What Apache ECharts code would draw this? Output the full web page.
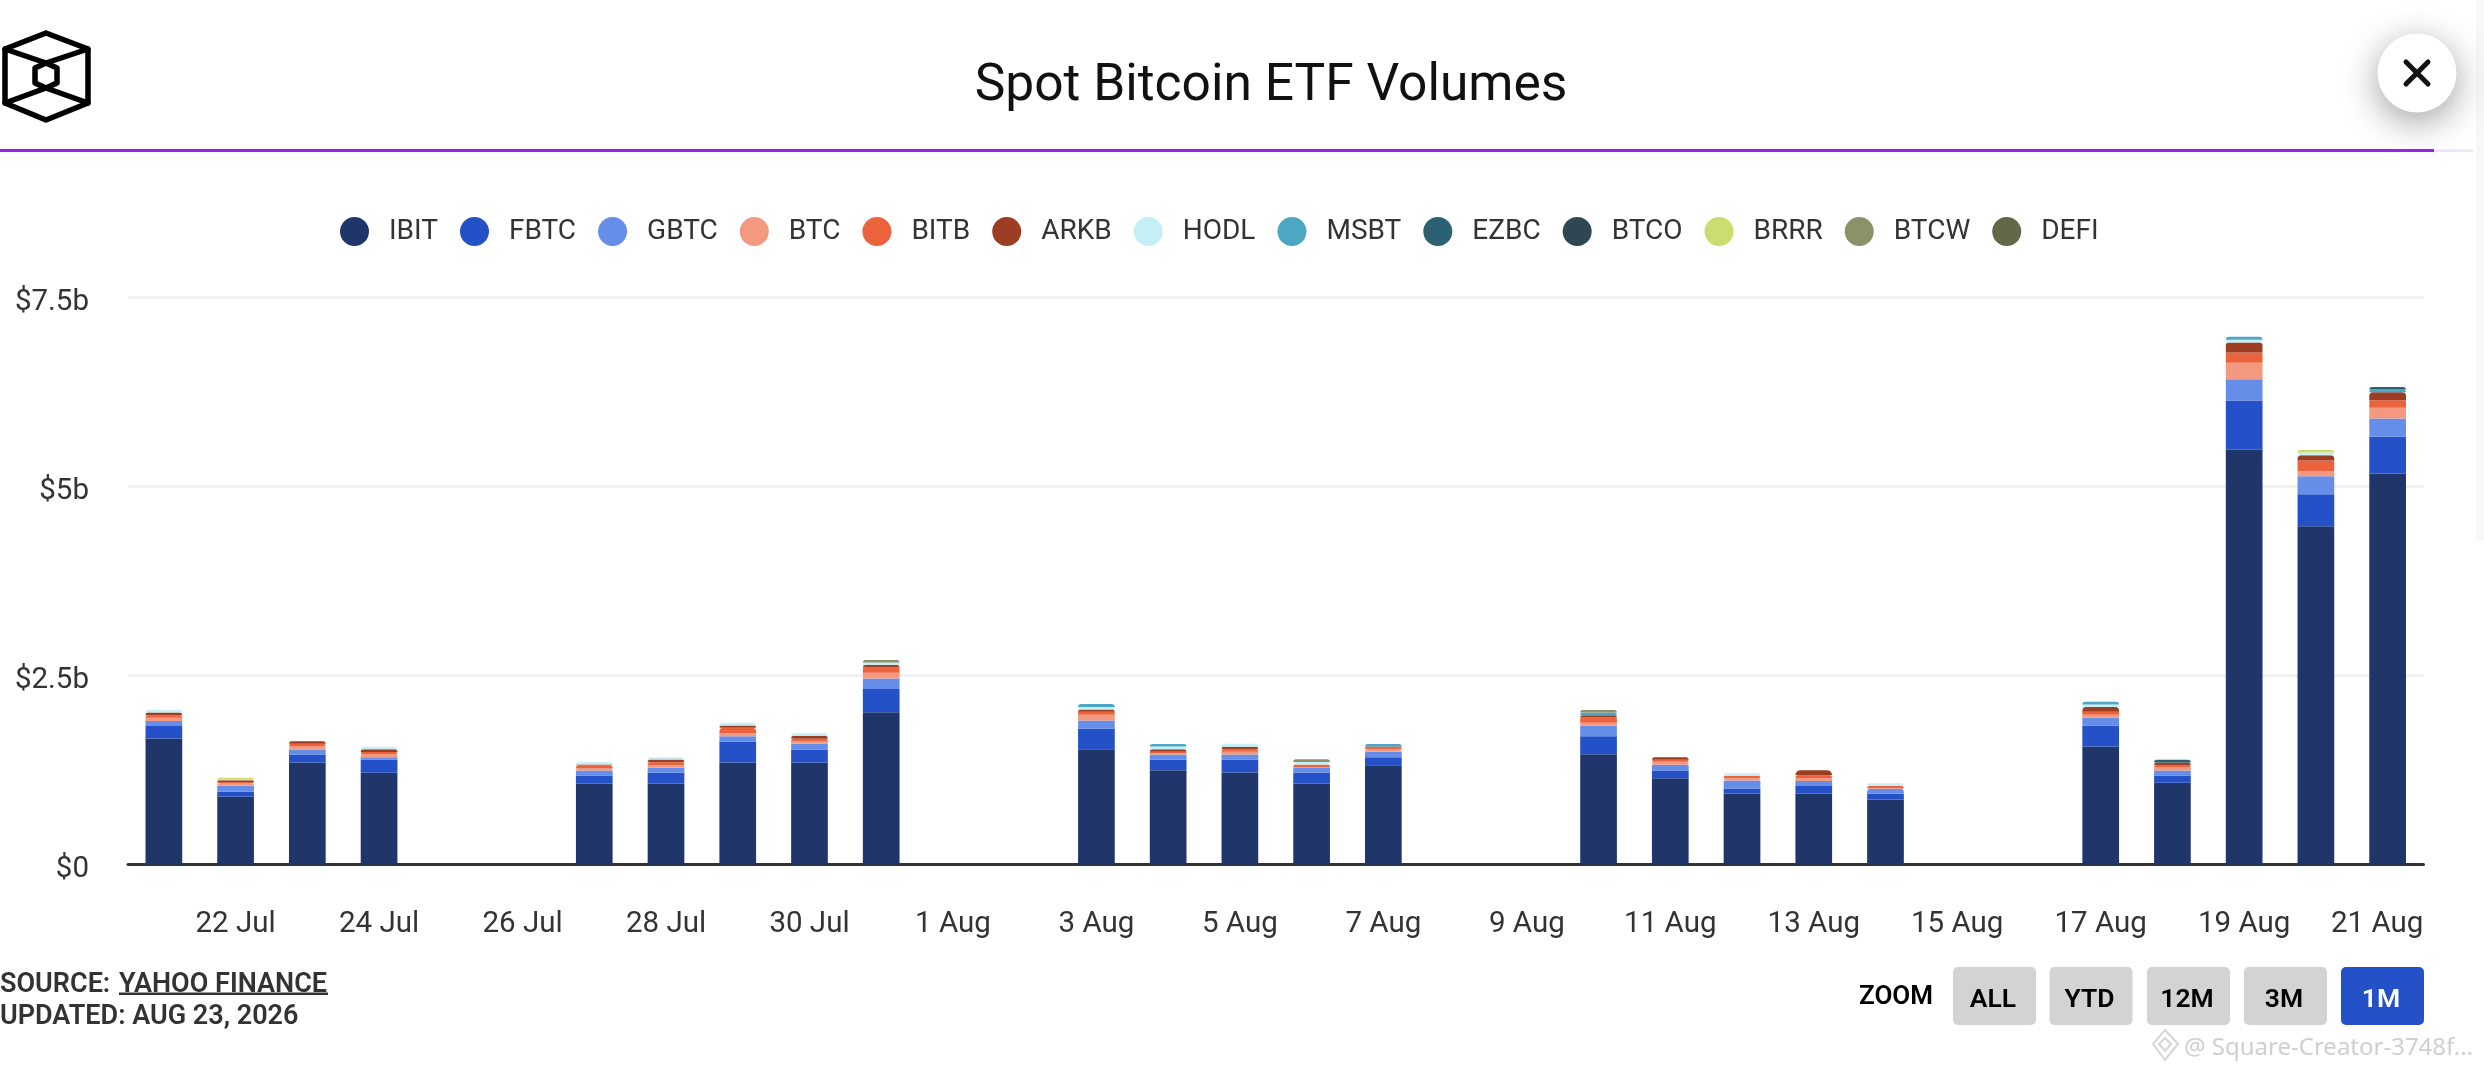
<!DOCTYPE html>
<html>
<head>
<meta charset="utf-8">
<style>html,body{margin:0;padding:0;background:#fff;overflow:hidden}#c{width:2484px;height:1071px}</style>
<script src="https://cdn.jsdelivr.net/npm/echarts@6/dist/echarts.min.js"></script>
</head>
<body>
<div id="c"></div>
<script>
const dates = ['21 Jul','22 Jul','23 Jul','24 Jul','25 Jul','26 Jul','27 Jul','28 Jul','29 Jul','30 Jul','31 Jul','1 Aug','2 Aug','3 Aug','4 Aug','5 Aug','6 Aug','7 Aug','8 Aug','9 Aug','10 Aug','11 Aug','12 Aug','13 Aug','14 Aug','15 Aug','16 Aug','17 Aug','18 Aug','19 Aug','20 Aug','21 Aug'];
const n = null;
const IBIT = [1.665,0.90,1.348,1.211,n,n,1.07,1.07,1.348,1.348,2.013,n,n,1.524,1.247,1.216,1.07,1.313,n,n,1.458,1.141,0.938,0.938,0.859,n,n,1.559,1.08,5.48,4.471,5.167];
const FBTC = [0.167,0.062,0.106,0.176,n,n,0.106,0.141,0.278,0.172,0.308,n,n,0.269,0.141,0.172,0.141,0.106,n,n,0.238,0.101,0.066,0.101,0.075,n,n,0.278,0.096,0.652,0.423,0.485];
const GBTC = [0.066,0.08,0.066,0.03,n,n,0.066,0.066,0.07,0.075,0.137,n,n,0.11,0.066,0.066,0.07,0.07,n,n,0.141,0.075,0.106,0.066,0.066,n,n,0.106,0.066,0.282,0.238,0.242];
const BTC  = [0.04,0.035,0.04,0.044,n,n,0.026,0.035,0.04,0.031,0.075,n,n,0.075,0.013,0.035,0.005,0.035,n,n,0.035,0.04,0.031,0.035,0.009,n,n,0.035,0.04,0.216,0.07,0.141];
const BITB = [0.035,0.013,0.035,0.026,n,n,0.044,0.04,0.07,0.035,0.07,n,n,0.04,0.022,0.035,0.035,0.022,n,n,0.07,0.026,0.031,0.04,0.03,n,n,0.04,0.031,0.137,0.137,0.101];
const ARKB = [0.035,0.022,0.035,0.035,n,n,0.009,0.035,0.031,0.04,0.035,n,n,0.031,0.035,0.031,0,0.013,n,n,0.031,0.035,0,0.066,0,n,n,0.062,0.035,0.132,0.07,0.106];
const HODL = [0.035,0.008,0,0.035,n,n,0.031,0.031,0.035,0.035,0.031,n,n,0.031,0.035,0.04,0.035,0,n,n,0,0,0.035,0,0.035,n,n,0.035,0,0.035,0.035,0];
const MSBT = [0,0,0,0,n,n,0,0,0,0,0,n,n,0.04,0.035,0,0,0.035,n,n,0.035,0,0,0,0,n,n,0.035,0,0.04,0,0.035];
const EZBC = [0,0,0,0,n,n,0,0,0,0,0,n,n,0,0,0,0,0,n,n,0,0,0,0,0,n,n,0,0.035,0,0,0.035];
const BTCO = [0,0,0,0,n,n,0,0,0,0,0,n,n,0,0,0,0,0,n,n,0,0,0,0,0,n,n,0,0,0,0,0];
const BRRR = [0,0.027,0,0,n,n,0,0,0,0,0,n,n,0,0,0,0,0,n,n,0,0,0,0,0,n,n,0,0,0,0.035,0];
const BTCW = [0,0,0,0,n,n,0,0,0,0,0.035,n,n,0,0,0,0.035,0,n,n,0.035,0,0,0,0,n,n,0,0,0,0,0];
const DEFI = [0,0,0,0,n,n,0,0,0,0,0,n,n,0,0,0,0,0,n,n,0,0,0,0,0,n,n,0,0,0,0,0];
const seriesNames = ['IBIT','FBTC','GBTC','BTC','BITB','ARKB','HODL','MSBT','EZBC','BTCO','BRRR','BTCW','DEFI'];
const seriesValues = [IBIT,FBTC,GBTC,BTC,BITB,ARKB,HODL,MSBT,EZBC,BTCO,BRRR,BTCW,DEFI];
const seriesColors = ['#20366b','#2450c8','#668ee9','#f29980','#ea633d','#9c3e23','#c5eef5','#4da6c3','#2b6173','#2e4753','#ccdd6f','#8d9169','#636848'];
const yTicks = {0:'$0',2.5:'$2.5b',5:'$5b',7.5:'$7.5b'};
const zoomButtons = ['ALL','YTD','12M','3M','1M'];

const pxPerUnit = 75.7, cornerR = 9;
function radiusFor(si, di) {
  let depth = 0;
  for (let k = seriesValues.length - 1; k > si; k--) depth += (seriesValues[k][di] || 0) * pxPerUnit;
  const r = cornerR - depth;
  return r > 0 ? r : 0;
}
const series = seriesNames.map((name, si) => ({
  name, type: 'bar', stack: 'v', barWidth: 36.7, itemStyle: {color: seriesColors[si]},
  emphasis: {disabled: true}, animation: false,
  data: seriesValues[si].map((v, di) => {
    if (v === null) return {value: null};
    const r = radiusFor(si, di);
    return r > 0 ? {value: v, itemStyle: {borderRadius: [r, r, 0, 0]}} : {value: v};
  })
}));

const FF = 'Roboto';
const graphics = [];
const logoStyle = {stroke: '#000', lineWidth: 5.5, fill: 'none', lineJoin: 'round', lineCap: 'round'};
[
  [[46,33],[88,49],[88,103],[46,120],[5,103],[5,49],[46,33]],
  [[5,49],[46,63],[88,49]],
  [[5,103],[46,88],[88,103]],
  [[46,63],[57,68],[57,83],[46,88],[35,83],[35,68],[46,63]]
].forEach(p => graphics.push({type: 'polyline', shape: {points: p}, style: logoStyle, silent: true}));
graphics.push({type:'rect',shape:{x:2434,y:149.5,width:39,height:2.5},style:{fill:'#f0e2fe'},silent:true});
graphics.push({type:'rect',shape:{x:0,y:149,width:2434,height:3},style:{fill:'#9b20f0'},silent:true});
graphics.push({type:'rect',shape:{x:2476,y:0,width:8,height:540},style:{fill:'#f7f7f7'},silent:true});
graphics.push({type:'circle',shape:{cx:2417,cy:73,r:39.5},style:{fill:'#fff',shadowBlur:36,shadowOffsetY:9,shadowColor:'rgba(0,0,0,0.38)'},silent:true});
graphics.push({type:'line',shape:{x1:2406,y1:62,x2:2428,y2:84},style:{stroke:'#111',lineWidth:5,lineCap:'round'},silent:true});
graphics.push({type:'line',shape:{x1:2428,y1:62,x2:2406,y2:84},style:{stroke:'#111',lineWidth:5,lineCap:'round'},silent:true});
const label = (x,y,text,size,weight,fill,align,family) => ({type:'text',x,y,silent:true,style:{text,fontFamily:family||FF,fontSize:size,fontWeight:weight,fill,align:align||'left',verticalAlign:'middle'}});
graphics.push(label(0,985,'SOURCE:',27,600,'#333'));
graphics.push(label(119,985,'YAHOO FINANCE',27,600,'#333'));
graphics.push({type:'rect',shape:{x:119,y:992.5,width:209,height:2.5},style:{fill:'#333'},silent:true});
graphics.push(label(0,1017,'UPDATED: AUG 23, 2026',27,600,'#333'));
graphics.push(label(1859,997,'ZOOM',26,600,'#000'));
const btnX = [1953,2049.5,2147,2244,2341];
zoomButtons.forEach((t,i)=>{
  const on = i === zoomButtons.length-1;
  graphics.push({type:'rect',shape:{x:btnX[i],y:967,width:83,height:58,r:5},style:{fill:on?'#2450c8':'#d3d3d3'},silent:true});
  graphics.push(label(btnX[i]+40,1000,t,26.5,600,on?'#fff':'#000','center'));
});
graphics.push({type:'polygon',shape:{points:[[2165,1030],[2178,1044],[2165,1060],[2153,1044]]},style:{fill:'none',stroke:'#d6d6d6',lineWidth:2},silent:true});
graphics.push({type:'polygon',shape:{points:[[2165,1038],[2171,1044],[2165,1051],[2159,1044]]},style:{fill:'none',stroke:'#d6d6d6',lineWidth:2},silent:true});
graphics.push(label(2184,1048,'@ Square-Creator-3748f...',24,400,'#cfcfcf','left','Noto Sans'));

const chart = echarts.init(document.getElementById('c'), null, {renderer:'canvas'});
chart.setOption({
  animation: false,
  backgroundColor: '#fff',
  title: {text:'Spot Bitcoin ETF Volumes', left:1266, top:56, textAlign:'center',
    textStyle:{fontFamily:FF, fontSize:51.5, fontWeight:400, color:'#111'}},
  legend: {
    data: seriesNames, left: 335, top: 212, icon:'circle', itemWidth:29, itemHeight:29, itemGap:22,
    textStyle:{fontFamily:FF, fontSize:28, color:'#333', padding:[0,0,0,15]}, selectedMode:false
  },
  tooltip: {show:false},
  grid: {left:128, right:60.5, top:297, bottom:206.5, containLabel:false},
  xAxis: {
    type:'category', data:dates, boundaryGap:true,
    axisTick:{show:false},
    axisLine:{lineStyle:{color:'#333',width:3}},
    axisLabel:{
      interval:(i)=>i%2===1, margin:45, fontFamily:FF, fontSize:29.5, color:'#333',
      formatter:(v,i)=> i===dates.length-1 ? '{s|'+v+'}' : v,
      rich:{s:{fontFamily:FF,fontSize:29.5,color:'#333',padding:[0,21,0,0]}}
    }
  },
  yAxis: {
    type:'value', min:0, max:7.5, interval:2.5,
    axisLine:{show:false}, axisTick:{show:false},
    splitLine:{lineStyle:{color:'#eeeeee',width:2.5}},
    axisLabel:{margin:39, formatter:v=>'{a|'+yTicks[v]+'}',
      rich:{a:{fontFamily:FF,fontSize:29.5,color:'#333',padding:[11,0,0,0]}}}
  },
  series,
  graphic: {elements: graphics}
});
</script>
</body>
</html>
